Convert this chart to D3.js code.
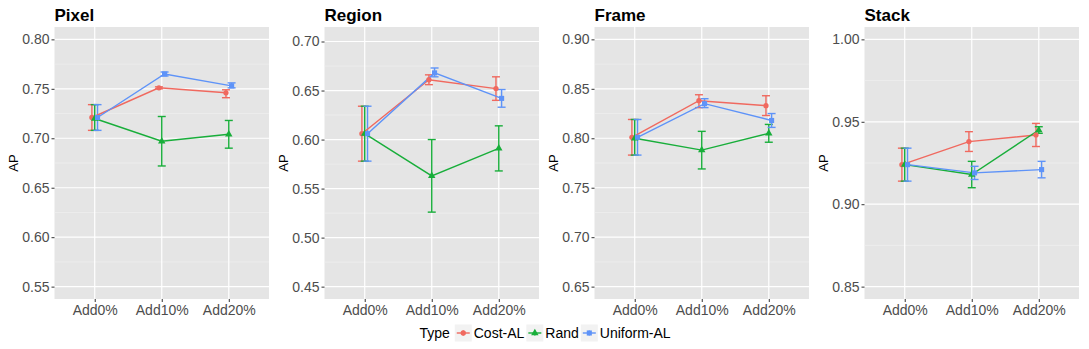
<!DOCTYPE html>
<html lang="en">
<head>
    <meta charset="UTF-8">
    <title>AP by added data</title>
    <script src="https://d3js.org/d3.v7.min.js"></script>
    <style>
        body { margin: 0; background: #fff; }
        text { font-family: "Liberation Sans", Arial, sans-serif; }
        .tick text { fill: #4d4d4d; font-size: 14px; }
        .tick line { stroke: #333; }
        .panel-title { font-size: 17px; font-weight: bold; }
        .y-label { font-size: 13px; }
        .legend text { font-size: 14px; }
    </style>
</head>
<body>
    <svg width="1089" height="349"></svg>
    <script>
        // categories and series
        const categories = ["Add0%", "Add10%", "Add20%"];
        const types = ["Cost-AL", "Rand", "Uniform-AL"];
        const colors = ["#F0695F", "#18AE3A", "#5E93F8"];
        const titles = ["Pixel", "Region", "Frame", "Stack"];

        // AP values, rows = Cost-AL, Rand, Uniform-AL
        const pixelAP   = [[0.721, 0.751, 0.746], [0.720, 0.697, 0.704], [0.721, 0.765, 0.753]];
        const pixelLow  = [[0.708, 0.750, 0.741], [0.708, 0.672, 0.690], [0.708, 0.763, 0.751]];
        const pixelHigh = [[0.734, 0.752, 0.749], [0.734, 0.722, 0.718], [0.734, 0.767, 0.756]];

        const regionAP   = [[0.606, 0.661, 0.652], [0.606, 0.563, 0.591], [0.606, 0.668, 0.642]];
        const regionLow  = [[0.578, 0.656, 0.640], [0.578, 0.526, 0.568], [0.578, 0.664, 0.633]];
        const regionHigh = [[0.634, 0.666, 0.664], [0.634, 0.600, 0.614], [0.634, 0.673, 0.651]];

        const frameAP   = [[0.801, 0.838, 0.833], [0.800, 0.788, 0.805], [0.801, 0.835, 0.818]];
        const frameLow  = [[0.783, 0.831, 0.823], [0.783, 0.769, 0.796], [0.783, 0.831, 0.811]];
        const frameHigh = [[0.819, 0.844, 0.843], [0.819, 0.807, 0.814], [0.819, 0.840, 0.825]];

        const stackAP   = [[0.924, 0.938, 0.942], [0.924, 0.918, 0.945], [0.924, 0.919, 0.921]];
        const stackLow  = [[0.914, 0.932, 0.935], [0.914, 0.910, 0.943], [0.914, 0.915, 0.916]];
        const stackHigh = [[0.934, 0.944, 0.949], [0.934, 0.926, 0.947], [0.934, 0.923, 0.926]];

        // y tick labels and domains
        const pixelTicks  = [0.55, 0.60, 0.65, 0.70, 0.75, 0.80];
        const regionTicks = [0.45, 0.50, 0.55, 0.60, 0.65, 0.70];
        const frameTicks  = [0.65, 0.70, 0.75, 0.80, 0.85, 0.90];
        const stackTicks  = [0.85, 0.90, 0.95, 1.00];
        const pixelDomain  = [0.5375, 0.8125];
        const regionDomain = [0.4374, 0.7148];
        const frameDomain  = [0.6375, 0.9125];
        const stackDomain  = [0.8425, 1.0075];

        const panels = [
            {ap: pixelAP, lo: pixelLow, hi: pixelHigh, ticks: pixelTicks, domain: pixelDomain},
            {ap: regionAP, lo: regionLow, hi: regionHigh, ticks: regionTicks, domain: regionDomain},
            {ap: frameAP, lo: frameLow, hi: frameHigh, ticks: frameTicks, domain: frameDomain},
            {ap: stackAP, lo: stackLow, hi: stackHigh, ticks: stackTicks, domain: stackDomain}
        ];

        const svg = d3.select("svg");
        const panelW = 214.5, panelTop = 27, panelBottom = 299;
        const dodge = [-0.042, 0, 0.042];
        const shapes = [d3.symbolCircle, d3.symbolTriangle, d3.symbolSquare];
        const shapeSize = [22, 24, 26];

        panels.forEach((p, i) => {
            const left = 54.5 + i * 270;
            const g = svg.append("g");

            const x = d3.scalePoint().domain(categories)
                .range([left, left + panelW]).padding(0.6);
            const y = d3.scaleLinear().domain(p.domain).range([panelBottom, panelTop]);
            const step = x.step();

            g.append("rect")
                .attr("x", left).attr("y", panelTop)
                .attr("width", panelW).attr("height", panelBottom - panelTop)
                .attr("fill", "#e5e5e5");

            // minor grid between major ticks
            const minors = p.ticks.slice(1).map((t, k) => (t + p.ticks[k]) / 2);
            g.selectAll(".minor").data(minors).enter().append("line")
                .attr("x1", left).attr("x2", left + panelW)
                .attr("y1", d => y(d)).attr("y2", d => y(d))
                .attr("stroke", "#f2f2f2").attr("stroke-width", 0.6);
            g.selectAll(".major").data(p.ticks).enter().append("line")
                .attr("x1", left).attr("x2", left + panelW)
                .attr("y1", d => y(d)).attr("y2", d => y(d))
                .attr("stroke", "#fff").attr("stroke-width", 1.2);
            g.selectAll(".vmajor").data(categories).enter().append("line")
                .attr("x1", d => x(d)).attr("x2", d => x(d))
                .attr("y1", panelTop).attr("y2", panelBottom)
                .attr("stroke", "#fff").attr("stroke-width", 1.2);

            // axes
            const yAxis = g.append("g")
                .attr("transform", `translate(${left},0)`)
                .call(d3.axisLeft(y).tickValues(p.ticks).tickFormat(d3.format(".2f"))
                    .tickSize(3).tickPadding(2));
            yAxis.select(".domain").remove();
            yAxis.selectAll("text").attr("fill", "#4d4d4d");

            const xAxis = g.append("g")
                .attr("transform", `translate(0,${panelBottom})`)
                .call(d3.axisBottom(x).tickSize(3).tickPadding(3));
            xAxis.select(".domain").remove();
            xAxis.selectAll("text").attr("fill", "#4d4d4d");

            g.append("text")
                .attr("class", "panel-title")
                .attr("x", left).attr("y", 21)
                .text(titles[i]);

            g.append("text")
                .attr("class", "y-label")
                .attr("transform", `translate(${left - 37},${(panelTop + panelBottom) / 2}) rotate(-90)`)
                .attr("text-anchor", "middle")
                .text("AP");

            const px = (t, c) => x(categories[c]) + dodge[t] * step;

            // error bars
            types.forEach((name, t) => {
                const eg = g.append("g").attr("stroke", colors[t]).attr("stroke-width", 1.4).attr("fill", "none");
                categories.forEach((c, k) => {
                    const cx = px(t, k);
                    eg.append("line").attr("x1", cx).attr("x2", cx)
                        .attr("y1", y(p.lo[t][k])).attr("y2", y(p.hi[t][k]));
                    eg.append("line").attr("x1", cx - 4).attr("x2", cx + 4)
                        .attr("y1", y(p.lo[t][k])).attr("y2", y(p.lo[t][k]));
                    eg.append("line").attr("x1", cx - 4).attr("x2", cx + 4)
                        .attr("y1", y(p.hi[t][k])).attr("y2", y(p.hi[t][k]));
                });
            });

            // lines
            types.forEach((name, t) => {
                const line = d3.line().x((d, k) => px(t, k)).y(d => y(d));
                g.append("path")
                    .datum(p.ap[t])
                    .attr("d", line)
                    .attr("fill", "none")
                    .attr("stroke", colors[t])
                    .attr("stroke-width", 1.4);
            });

            // points
            types.forEach((name, t) => {
                g.selectAll(null).data(p.ap[t]).enter().append("path")
                    .attr("d", d3.symbol().type(shapes[t]).size(shapeSize[t]))
                    .attr("transform", (d, k) => `translate(${px(t, k)},${y(d)})`)
                    .attr("fill", colors[t]);
            });
        });

        // legend
        const legend = svg.append("g").attr("class", "legend");
        const ly = 333;
        let cursor = 0;
        const titleText = legend.append("text").attr("x", cursor).attr("y", ly + 5).text("Type");
        cursor += titleText.node().getComputedTextLength() + 5;
        types.forEach((name, t) => {
            const key = legend.append("g").attr("transform", `translate(${cursor},${ly})`);
            key.append("rect").attr("x", 0).attr("y", -8.5).attr("width", 17).attr("height", 17)
                .attr("fill", "#f2f2f2");
            key.append("line").attr("x1", 2).attr("x2", 15).attr("y1", 0).attr("y2", 0)
                .attr("stroke", colors[t]).attr("stroke-width", 1.4);
            key.append("line").attr("x1", 8.5).attr("x2", 8.5).attr("y1", -2.5).attr("y2", 2.5)
                .attr("stroke", colors[t]).attr("stroke-width", 1.4);
            key.append("path").attr("d", d3.symbol().type(shapes[t]).size(shapeSize[t]))
                .attr("transform", "translate(8.5,0)").attr("fill", colors[t]);
            cursor += 19;
            const lbl = legend.append("text").attr("x", cursor).attr("y", ly + 5).text(name);
            cursor += lbl.node().getComputedTextLength() + 2;
        });
        legend.attr("transform", `translate(${546 - cursor / 2},0)`);
    </script>
</body>
</html>
